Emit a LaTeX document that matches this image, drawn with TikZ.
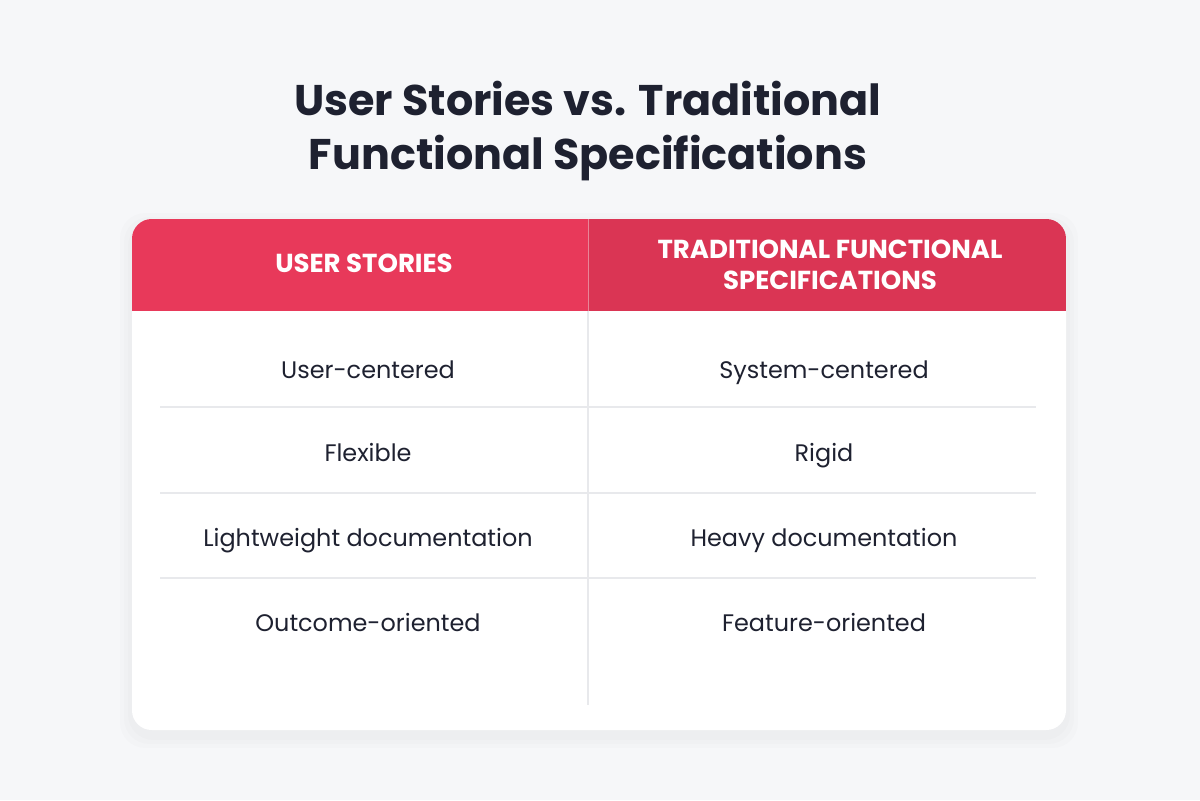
\documentclass[tikz,border=0pt]{standalone}
\usepackage{fontspec}
\setmainfont{Poppins}
\usetikzlibrary{calc}
\definecolor{pagebg}{HTML}{F6F7F9}
\definecolor{headred}{HTML}{E8395A}
\definecolor{inkdark}{HTML}{1E2130}
\definecolor{ruleg}{HTML}{E8E9EC}
\tikzset{
  cell/.style={font=\fontsize{17}{20}\selectfont, text=inkdark, anchor=base},
  headcell/.style={font=\fontsize{18.5}{22}\selectfont\bfseries, text=white, align=center},
  rowrule/.style={ruleg, line width=0.8pt}
}
\begin{document}
\begin{tikzpicture}[x=0.025cm, y=-0.025cm]

% --------- Page ----------
\fill[pagebg] (0,0) rectangle (1200,800);
\useasboundingbox (0,0) rectangle (1200,800);

% --------- Title ----------
\node[font=\fontsize{30.5}{38}\selectfont\bfseries, text=inkdark, align=center] (title) at (588,131)
  {User Stories vs. Traditional\\ Functional Specifications};

% --------- Card ----------
\foreach \o in {12,8,4}{
  \fill[black, opacity=0.012, rounded corners=18] ({132-\o},{225-\o}) rectangle ({1066+\o},{736+\o});
}
\fill[white, rounded corners=14] (132,219) rectangle (1066,730);
\begin{scope}
  \clip[rounded corners=14] (132,219) rectangle (1066,730);
  \fill[headred] (132,219) rectangle (1066,311);
  \fill[black, opacity=0.06] (588,219) rectangle (1066,311);
\end{scope}
\draw[white, opacity=0.4] (588,219) -- (588,311);
\draw[rowrule] (588,311) -- (588,705);

% --------- Header ----------
\node[headcell] (hleft)  at (364,263) {USER STORIES};
\node[headcell] (hright) at (830,265) {TRADITIONAL FUNCTIONAL\\SPECIFICATIONS};

% --------- Rows ----------
\foreach \y in {407,493,578}{
  \draw[rowrule] (160,\y) -- (1036,\y);
}
\foreach \y/\l/\r in {378/User-centered/System-centered,
                      461/Flexible/Rigid,
                      546/Lightweight documentation/Heavy documentation,
                      631/Outcome-oriented/Feature-oriented}{
  \node[cell] (l\y) at (368,\y) {\l};
  \node[cell] (r\y) at (824,\y) {\r};
}

\end{tikzpicture}
\end{document}
